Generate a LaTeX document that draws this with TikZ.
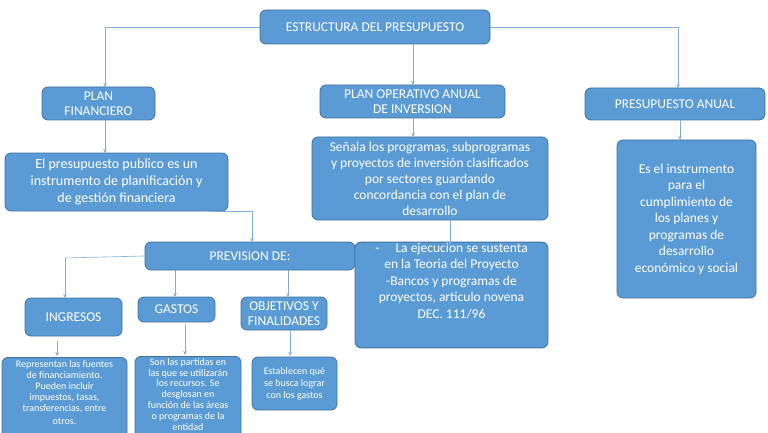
\documentclass[tikz,border=0pt]{standalone}
\usepackage{fontspec}
\setmainfont{Carlito}
\usetikzlibrary{arrows.meta}
\definecolor{bfill}{HTML}{5B9BD5}
\definecolor{bdraw}{HTML}{41719C}
\definecolor{lnk}{HTML}{7FAEE0}
\begin{document}
\begin{tikzpicture}[x=1pt,y=-1pt,
 bx/.style={draw=bdraw,fill=bfill,rounded corners=6pt,line width=0.8pt,text=white,align=center,inner sep=1pt},
 ln/.style={draw=lnk,line width=0.6pt},
 ar/.style={ln,-{Stealth[length=4pt,width=3.5pt]}}]
\useasboundingbox (0,0) rectangle (768,433);
\coordinate (hl) at (105,27); \coordinate (hr) at (678,27);
\draw[ln] (hl) -- (hr);
\node[bx,minimum width=230pt,minimum height=34pt,font=\fontsize{13.5}{15}\selectfont] (top) at (375,27) {ESTRUCTURA DEL PRESUPUESTO};
\node[bx,minimum width=113pt,minimum height=33pt,font=\fontsize{13.5}{15}\selectfont] (pf) at (98.5,103.5) {PLAN\\FINANCIERO};
\node[bx,minimum width=185pt,minimum height=33pt,font=\fontsize{13.5}{15}\selectfont] (po) at (412.5,101.5) {PLAN OPERATIVO ANUAL\\DE INVERSION};
\node[bx,minimum width=180pt,minimum height=32pt,font=\fontsize{13.5}{15}\selectfont] (pa) at (675,104) {PRESUPUESTO ANUAL};
\draw[ar] (hl) -- (105,87);
\draw[ar] (413,44) -- (413,85);
\draw[ar] (hr) -- (678,88);
\node[bx,minimum width=223pt,minimum height=58pt,font=\fontsize{14}{17}\selectfont] (ep) at (116.5,182) {El presupuesto publico es un\\instrumento de planificación y\\de gestión financiera};
\node[bx,minimum width=236pt,minimum height=83pt,font=\fontsize{13.5}{16}\selectfont] (se) at (430,178.5) {Señala los programas, subprogramas\\y proyectos de inversión clasificados\\por sectores guardando\\concordancia con el plan de\\desarrollo};
\node[bx,minimum width=139pt,minimum height=158pt,font=\fontsize{13.5}{16.5}\selectfont] (ei) at (686.5,219) {Es el instrumento\\para el\\cumplimiento de\\los planes y\\programas de\\desarrollo\\económico y social};
\draw[ar] (105,120) -- (105,153);
\draw[ar] (413,118) -- (413,137);
\draw[ar] (680,120) -- (680,140);
\node[bx,minimum width=210pt,minimum height=28pt,font=\fontsize{13.5}{15}\selectfont] (pr) at (250,256) {PREVISION DE:};
\node[bx,minimum width=193pt,minimum height=100pt,font=\fontsize{13.5}{16.5}\selectfont] (le) at (451.5,295) {-\hspace{1.2em}La ejecucion se sustenta\\en la Teoria del Proyecto\\-Bancos y programas de\\proyectos, articulo novena\\DEC. 111/96\\[12pt]};
\draw[ar] (450,220) -- (450,245);
\draw[ln] (210,211) -- (252,211);
\draw[ar] (252,211) -- (252,242);
\node[bx,minimum width=97pt,minimum height=38pt,font=\fontsize{13.5}{15}\selectfont] (in) at (73.5,317) {INGRESOS};
\node[bx,minimum width=77pt,minimum height=25pt,font=\fontsize{13.5}{15}\selectfont] (ga) at (176.5,309.5) {GASTOS};
\node[bx,minimum width=86pt,minimum height=33pt,font=\fontsize{13.5}{15}\selectfont] (ob) at (284,313.5) {OBJETIVOS Y\\FINALIDADES};
\draw[ln] (65,258) -- (pr.west);
\draw[ar] (65,258) -- (65,298);
\draw[ar] (175,270) -- (175,297);
\draw[ar] (288,270) -- (288,297);
\node[bx,minimum width=125pt,minimum height=80pt,font=\fontsize{10}{11}\selectfont,anchor=north,inner sep=3pt] (re) at (64.5,357) {Representan las fuentes\\de financiamiento.\\Pueden incluir\\impuestos, tasas,\\transferencias, entre\\[2pt]otros.\\[4pt]};
\node[bx,minimum width=106pt,minimum height=80pt,font=\fontsize{10}{10.8}\selectfont,anchor=north,inner sep=2pt] (so) at (188,356) {Son las partidas en\\las que se utilizarán\\los recursos. Se\\desglosan en\\función de las áreas\\o programas de la\\entidad\\[3pt]};
\node[bx,minimum width=85pt,minimum height=53pt,font=\fontsize{10}{12}\selectfont] (es) at (294.5,383.5) {Establecen qué\\se busca lograr\\con los gastos};
\draw[ar] (57,341) -- (57,356);
\draw[ar] (185,324) -- (185,355);
\draw[ar] (290,330) -- (290,356);
\end{tikzpicture}
\end{document}
